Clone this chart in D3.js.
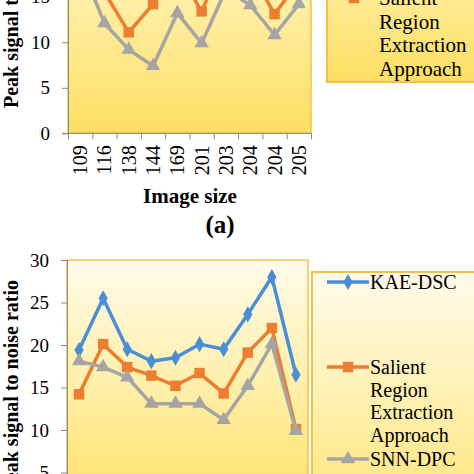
<!DOCTYPE html>
<html>
<head>
<meta charset="utf-8">
<script src="https://cdn.jsdelivr.net/npm/d3@7"></script>
<style>
  body { margin: 0; background: #fff; }
  svg { display: block; }
</style>
</head>
<body>
<script>
// two stacked PSNR charts, (a) cut at the top and (b) cut at the bottom

// x categories (image size) - note 204 appears twice
var categories = ["109", "116", "138", "144", "169", "201", "203", "204", "204", "205"];
var yTicks = [0, 5, 10, 15, 20, 25, 30];
var seriesNames = ["KAE-DSC", "Salient Region Extraction Approach", "SNN-DPC"];

// chart (a) values
var kaeA = [22.4, 24.8, 19.6, 18.3, 21.2, 20.5, 22.6, 23.9, 26.8, 19.2];
var salientA = [18.2, 15.5, 11.1, 14.2, 17.9, 13.4, 19.5, 17.8, 13.1, 16.7];
var snnA = [18.6, 12.1, 9.2, 7.4, 13.2, 9.9, 15.8, 14.1, 10.8, 14.2];

// chart (b) values
var kaeB = [19.4, 25.5, 19.5, 18.1, 18.5, 20.1, 19.5, 23.6, 28.0, 16.5];
var salientB = [14.2, 20.1, 17.4, 16.4, 15.2, 16.7, 14.3, 19.1, 22.0, 10.1];
var snnB = [18.1, 17.4, 16.2, 13.1, 13.1, 13.1, 11.2, 15.2, 20.1, 9.9];

var colors = ["#4a8fd6", "#ed7d31", "#a5a5a5"];
var symbols = [d3.symbolDiamond, d3.symbolSquare, d3.symbolTriangle];
var symSizes = [75, 110, 90];
var serif = "Liberation Serif";

var width = 474, height = 474;

var svg = d3.select("body").append("svg")
  .attr("width", width)
  .attr("height", height)
  .attr("font-family", serif);

var defs = svg.append("defs");
var grad = defs.append("linearGradient")
  .attr("id", "gold")
  .attr("x1", 0).attr("y1", 0).attr("x2", 0).attr("y2", 1);
grad.append("stop").attr("offset", "0%").attr("stop-color", "#fffbea");
grad.append("stop").attr("offset", "50%").attr("stop-color", "#ffefa8");
grad.append("stop").attr("offset", "100%").attr("stop-color", "#fddf62");

function drawChart(cfg) {
  var g = svg.append("g");

  var x = d3.scaleBand()
    .domain(d3.range(categories.length))
    .range([cfg.left, cfg.right]);
  var xEdge = d3.scaleLinear()
    .domain([0, categories.length])
    .range([cfg.left, cfg.right]);
  var y = d3.scaleLinear()
    .domain([0, 30])
    .range([cfg.y0, cfg.y30]);

  // plot area
  g.append("rect")
    .attr("x", cfg.left)
    .attr("y", y(30))
    .attr("width", cfg.right - cfg.left)
    .attr("height", y(0) - y(30))
    .attr("fill", "url(#gold)")
    .attr("stroke", "#f0c548")
    .attr("stroke-width", 1.5);

  // y axis
  var yAxis = g.append("g")
    .attr("transform", "translate(" + cfg.left + ",0)")
    .call(d3.axisLeft(y).tickValues(yTicks).tickSize(6).tickSizeOuter(0).tickPadding(12))
    .attr("font-family", serif)
    .attr("font-size", 19);
  yAxis.selectAll("text").attr("fill", "#000");

  // x axis: ticks at category edges, labels rotated at the centres
  var xTicks = g.append("g")
    .attr("transform", "translate(0," + y(0) + ")")
    .call(d3.axisBottom(xEdge).tickValues(d3.range(categories.length + 1)).tickSize(6).tickSizeOuter(0).tickFormat(""));
  xTicks.select(".domain").attr("d", "M" + (cfg.left - 6) + ",0H" + cfg.right);

  var xLabels = g.append("g")
    .attr("transform", "translate(0," + y(0) + ")")
    .call(d3.axisBottom(x).tickSize(0).tickFormat(function(i) { return categories[i]; }))
    .attr("font-family", serif)
    .attr("font-size", 20);
  xLabels.select(".domain").remove();
  xLabels.selectAll("text")
    .attr("fill", "#000")
    .attr("transform", "rotate(-90)")
    .attr("text-anchor", "end")
    .attr("x", -12)
    .attr("y", 0)
    .attr("dy", "0.35em");

  g.selectAll(".domain, .tick line").attr("stroke", "#8a8a8a");

  // series
  var line = d3.line()
    .x(function(d, i) { return x(i) + x.bandwidth() / 2; })
    .y(function(d) { return y(d); });

  cfg.series.forEach(function(vals, s) {
    g.append("path")
      .datum(vals)
      .attr("fill", "none")
      .attr("stroke", colors[s])
      .attr("stroke-width", 3.5)
      .attr("stroke-linejoin", "round")
      .attr("d", line);
    g.selectAll(".m" + s)
      .data(vals)
      .enter().append("path")
      .attr("transform", function(d, i) {
        return "translate(" + (x(i) + x.bandwidth() / 2) + "," + y(d) + ")";
      })
      .attr("d", d3.symbol().type(symbols[s]).size(symSizes[s]))
      .attr("fill", colors[s]);
  });

  // axis titles
  g.append("text")
    .attr("transform", "translate(" + cfg.yTitleX + "," + cfg.yTitleY + ") rotate(-90)")
    .attr("text-anchor", cfg.yTitleAnchor)
    .attr("font-size", 20)
    .attr("font-weight", "bold")
    .text("Peak signal to noise ratio");

  if (cfg.xTitle) {
    g.append("text")
      .attr("x", 190)
      .attr("y", 203)
      .attr("text-anchor", "middle")
      .attr("font-size", 21)
      .attr("font-weight", "bold")
      .text("Image size");
    g.append("text")
      .attr("x", 220)
      .attr("y", 233)
      .attr("text-anchor", "middle")
      .attr("font-size", 25)
      .attr("font-weight", "bold")
      .text(cfg.xTitle);
  }

  // legend
  var lg = cfg.legend;
  g.append("rect")
    .attr("x", lg.x)
    .attr("y", lg.top)
    .attr("width", 200)
    .attr("height", lg.bottom - lg.top)
    .attr("fill", "url(#gold)")
    .attr("stroke", "#f2c340")
    .attr("stroke-width", 2);

  lg.items.forEach(function(it) {
    var s = it.s;
    var my = it.base - 7;
    g.append("line")
      .attr("x1", lg.mx - 21).attr("x2", lg.mx + 21)
      .attr("y1", my).attr("y2", my)
      .attr("stroke", colors[s])
      .attr("stroke-width", 3.5);
    g.append("path")
      .attr("transform", "translate(" + lg.mx + "," + my + ")")
      .attr("d", d3.symbol().type(symbols[s]).size(symSizes[s]))
      .attr("fill", colors[s]);
    var lines = s === 1 ? ["Salient", "Region", "Extraction", "Approach"] : [seriesNames[s]];
    var t = g.append("text")
      .attr("x", lg.tx)
      .attr("y", it.base)
      .attr("font-family", serif)
      .attr("font-size", lg.fs);
    lines.forEach(function(l, k) {
      t.append("tspan")
        .attr("x", lg.tx)
        .attr("dy", k === 0 ? 0 : lg.lh)
        .text(l);
    });
  });
}

drawChart({
  left: 68, right: 311, y0: 133.3, y30: -139.7,
  series: [kaeA, salientA, snnA],
  yTitleX: 18, yTitleY: 108, yTitleAnchor: "start",
  xTitle: "(a)",
  legend: {
    x: 327, top: -160, bottom: 82, mx: 354, tx: 379, fs: 21, lh: 23.5,
    items: [{ s: 0, base: -90 }, { s: 2, base: -45 }, { s: 1, base: 5 }]
  }
});

drawChart({
  left: 67, right: 308, y0: 515, y30: 260,
  series: [kaeB, salientB, snnB],
  yTitleX: 18, yTitleY: 280, yTitleAnchor: "end",
  xTitle: null,
  legend: {
    x: 312, top: 272, bottom: 560, mx: 348, tx: 370, fs: 20, lh: 22.7,
    items: [{ s: 0, base: 289 }, { s: 1, base: 374 }, { s: 2, base: 466 }]
  }
});
</script>
</body>
</html>
